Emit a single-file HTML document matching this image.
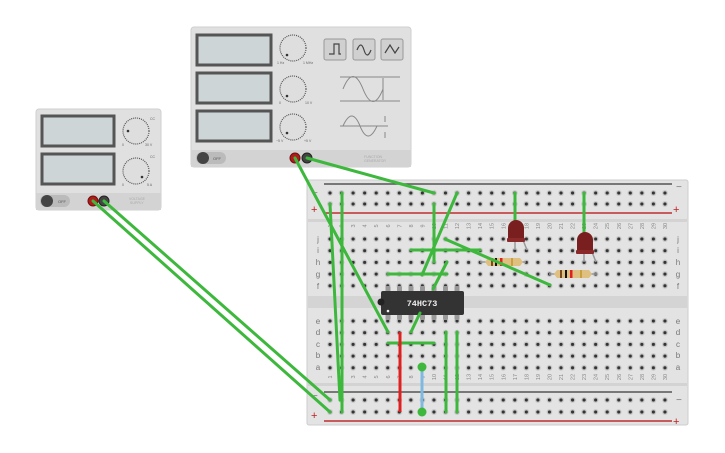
<!DOCTYPE html>
<html><head><meta charset="utf-8"><style>
html,body{margin:0;padding:0;background:#fff;width:725px;height:453px;overflow:hidden}
svg{display:block;font-family:"Liberation Sans",sans-serif}
</style></head><body>
<svg width="725" height="453" viewBox="0 0 725 453" xmlns="http://www.w3.org/2000/svg">
<defs>
<pattern id="holes" x="324.2" y="0" width="11.55" height="11.7" patternUnits="userSpaceOnUse">
<circle cx="5.8" cy="5.85" r="2.9" fill="#c8c8c8"/><circle cx="5.8" cy="5.85" r="1.6" fill="#333"/>
</pattern>
</defs>

<!-- Function generator -->
<rect x="191" y="27" width="220" height="140" rx="3" fill="#e0e0e0" stroke="#cfcfcf"/>
<rect x="191" y="150" width="220" height="17" fill="#d3d3d3"/>
<g fill="#cdd5d6" stroke="#555" stroke-width="3">
<rect x="197" y="35" width="74" height="30"/><rect x="197" y="73" width="74" height="30"/><rect x="197" y="111" width="74" height="30"/>
</g>
<g fill="#dedede" stroke="#555" stroke-width="1.2" stroke-dasharray="1 1">
<circle cx="293" cy="48" r="13"/><circle cx="293" cy="89" r="13"/><circle cx="293" cy="127" r="13"/>
</g>
<g fill="#333"><circle cx="287" cy="55" r="1.3"/><circle cx="287" cy="96" r="1.3"/><circle cx="287" cy="133" r="1.3"/></g>
<g font-size="3.5" fill="#666"><text x="277" y="64">1 Hz</text><text x="303" y="64">1 MHz</text><text x="279" y="104">0</text><text x="305" y="104">10 V</text><text x="276" y="142">−5 V</text><text x="304" y="142">+5 V</text></g>
<g fill="#d0d0d0" stroke="#999"><rect x="324" y="39" width="22" height="21" rx="2"/><rect x="353" y="39" width="22" height="21" rx="2"/><rect x="381" y="39" width="22" height="21" rx="2"/></g>
<g fill="none" stroke="#444" stroke-width="1.2">
<path d="M329 54h5v-10h5v10h2"/><path d="M357 50q4-10 7 0t7 0"/><path d="M385 53l5-8 5 8 4-6"/>
</g>
<g fill="none" stroke="#888" stroke-width="1">
<path d="M340 77h60M340 101h60M343 89q10-25 20 0t20 0M383 78v22"/>
<path d="M340 126h48M343 126q9-20 17 0t17 0M385 116v6M385 132v6"/>
</g>
<rect x="196" y="152" width="30" height="12" rx="6" fill="#bbb"/><circle cx="203" cy="158" r="6" fill="#444"/>
<text x="213" y="160" font-size="4" fill="#555">OFF</text>
<text x="364" y="158" font-size="3.5" fill="#aaa">FUNCTION</text><text x="364" y="162" font-size="3.5" fill="#aaa">GENERATOR</text>
<circle cx="295" cy="158" r="5" fill="#b01c1c" stroke="#701010"/><circle cx="307" cy="158" r="5" fill="#444" stroke="#222"/>

<!-- Voltage supply -->
<rect x="36" y="109" width="125" height="101" rx="3" fill="#e0e0e0" stroke="#cfcfcf"/>
<rect x="36" y="193" width="125" height="17" fill="#d3d3d3"/>
<g fill="#cdd5d6" stroke="#555" stroke-width="3"><rect x="42" y="116" width="72" height="30"/><rect x="42" y="154" width="72" height="30"/></g>
<g fill="#dedede" stroke="#555" stroke-width="1.2" stroke-dasharray="1 1"><circle cx="136" cy="131" r="13"/><circle cx="136" cy="171" r="13"/></g>
<g fill="#333"><circle cx="128" cy="131" r="1.3"/><circle cx="142" cy="177" r="1.3"/></g>
<g font-size="3.5" fill="#666"><text x="122" y="146">0</text><text x="145" y="146">30 V</text><text x="122" y="186">0</text><text x="147" y="186">5 A</text><text x="150" y="120">CC</text><text x="150" y="158">CC</text></g>
<rect x="40" y="195" width="30" height="12" rx="6" fill="#bbb"/><circle cx="47" cy="201" r="6" fill="#444"/>
<text x="58" y="203" font-size="4" fill="#555">OFF</text>
<text x="129" y="200" font-size="3.5" fill="#aaa">VOLTAGE</text><text x="130" y="204" font-size="3.5" fill="#aaa">SUPPLY</text>
<circle cx="93" cy="201" r="5" fill="#b01c1c" stroke="#701010"/><circle cx="104" cy="201" r="5" fill="#444" stroke="#222"/>

<!-- Breadboard -->
<rect x="307" y="180" width="381" height="245" rx="2" fill="#e3e3e3" stroke="#ccc"/>
<rect x="308" y="219" width="379" height="3" fill="#d3d3d3"/>
<rect x="308" y="296" width="379" height="12" fill="#d4d4d4"/>
<rect x="308" y="383" width="379" height="3" fill="#d3d3d3"/>
<line x1="324" y1="184" x2="672" y2="184" stroke="#555" stroke-width="1.5"/>
<line x1="324" y1="213" x2="672" y2="213" stroke="#c03030" stroke-width="1.5"/>
<line x1="324" y1="392" x2="672" y2="392" stroke="#555" stroke-width="1.5"/>
<line x1="324" y1="421" x2="672" y2="421" stroke="#c03030" stroke-width="1.5"/>
<g font-size="10" fill="#777"><text x="676" y="190">−</text><text x="312" y="196">−</text><text x="312" y="399">−</text><text x="676" y="403">−</text></g>
<g font-size="11" fill="#c02020"><text x="311" y="213">+</text><text x="673" y="213">+</text><text x="311" y="419">+</text><text x="673" y="425">+</text></g>
<!-- holes -->
<rect x="324.2" y="0" width="346.5" height="11.7" fill="url(#holes)" transform="translate(0,187.15)"/>
<rect x="324.2" y="0" width="346.5" height="11.7" fill="url(#holes)" transform="translate(0,198.15)"/>
<rect x="324.2" y="0" width="346.5" height="58.5" fill="url(#holes)" transform="translate(0,233.15)"/>
<rect x="324.2" y="0" width="346.5" height="58.5" fill="url(#holes)" transform="translate(0,315.15)"/>
<rect x="324.2" y="0" width="346.5" height="11.7" fill="url(#holes)" transform="translate(0,394.15)"/>
<rect x="324.2" y="0" width="346.5" height="11.7" fill="url(#holes)" transform="translate(0,406.15)"/>
<!-- row letters -->
<g font-size="8" fill="#777" text-anchor="middle">
<text x="318" y="242">j</text><text x="318" y="253">i</text><text x="318" y="265">h</text><text x="318" y="277">g</text><text x="318" y="289">f</text>
<text x="318" y="324">e</text><text x="318" y="335">d</text><text x="318" y="347">c</text><text x="318" y="358">b</text><text x="318" y="370">a</text>
<text x="678" y="242">j</text><text x="678" y="253">i</text><text x="678" y="265">h</text><text x="678" y="277">g</text><text x="678" y="289">f</text>
<text x="678" y="324">e</text><text x="678" y="335">d</text><text x="678" y="347">c</text><text x="678" y="358">b</text><text x="678" y="370">a</text>
</g>
<g font-size="5.5" fill="#888" text-anchor="middle">
<g transform="translate(2,226)">
<text transform="translate(330,0) rotate(-90)">1</text><text transform="translate(341.55,0) rotate(-90)">2</text><text transform="translate(353.1,0) rotate(-90)">3</text><text transform="translate(364.65,0) rotate(-90)">4</text><text transform="translate(376.2,0) rotate(-90)">5</text><text transform="translate(387.75,0) rotate(-90)">6</text><text transform="translate(399.3,0) rotate(-90)">7</text><text transform="translate(410.85,0) rotate(-90)">8</text><text transform="translate(422.4,0) rotate(-90)">9</text><text transform="translate(433.95,0) rotate(-90)">10</text><text transform="translate(445.5,0) rotate(-90)">11</text><text transform="translate(457.05,0) rotate(-90)">12</text><text transform="translate(468.6,0) rotate(-90)">13</text><text transform="translate(480.15,0) rotate(-90)">14</text><text transform="translate(491.7,0) rotate(-90)">15</text><text transform="translate(503.25,0) rotate(-90)">16</text><text transform="translate(514.8,0) rotate(-90)">17</text><text transform="translate(526.35,0) rotate(-90)">18</text><text transform="translate(537.9,0) rotate(-90)">19</text><text transform="translate(549.45,0) rotate(-90)">20</text><text transform="translate(561,0) rotate(-90)">21</text><text transform="translate(572.55,0) rotate(-90)">22</text><text transform="translate(584.1,0) rotate(-90)">23</text><text transform="translate(595.65,0) rotate(-90)">24</text><text transform="translate(607.2,0) rotate(-90)">25</text><text transform="translate(618.75,0) rotate(-90)">26</text><text transform="translate(630.3,0) rotate(-90)">27</text><text transform="translate(641.85,0) rotate(-90)">28</text><text transform="translate(653.4,0) rotate(-90)">29</text><text transform="translate(664.95,0) rotate(-90)">30</text>
</g>
<g transform="translate(2,377)">
<text transform="translate(330,0) rotate(-90)">1</text><text transform="translate(341.55,0) rotate(-90)">2</text><text transform="translate(353.1,0) rotate(-90)">3</text><text transform="translate(364.65,0) rotate(-90)">4</text><text transform="translate(376.2,0) rotate(-90)">5</text><text transform="translate(387.75,0) rotate(-90)">6</text><text transform="translate(399.3,0) rotate(-90)">7</text><text transform="translate(410.85,0) rotate(-90)">8</text><text transform="translate(422.4,0) rotate(-90)">9</text><text transform="translate(433.95,0) rotate(-90)">10</text><text transform="translate(445.5,0) rotate(-90)">11</text><text transform="translate(457.05,0) rotate(-90)">12</text><text transform="translate(468.6,0) rotate(-90)">13</text><text transform="translate(480.15,0) rotate(-90)">14</text><text transform="translate(491.7,0) rotate(-90)">15</text><text transform="translate(503.25,0) rotate(-90)">16</text><text transform="translate(514.8,0) rotate(-90)">17</text><text transform="translate(526.35,0) rotate(-90)">18</text><text transform="translate(537.9,0) rotate(-90)">19</text><text transform="translate(549.45,0) rotate(-90)">20</text><text transform="translate(561,0) rotate(-90)">21</text><text transform="translate(572.55,0) rotate(-90)">22</text><text transform="translate(584.1,0) rotate(-90)">23</text><text transform="translate(595.65,0) rotate(-90)">24</text><text transform="translate(607.2,0) rotate(-90)">25</text><text transform="translate(618.75,0) rotate(-90)">26</text><text transform="translate(630.3,0) rotate(-90)">27</text><text transform="translate(641.85,0) rotate(-90)">28</text><text transform="translate(653.4,0) rotate(-90)">29</text><text transform="translate(664.95,0) rotate(-90)">30</text>
</g>
</g>

<!-- chip -->
<g fill="#999">
<rect x="385.5" y="286" width="5" height="6" rx="1.5"/><rect x="397" y="286" width="5" height="6" rx="1.5"/><rect x="408.5" y="286" width="5" height="6" rx="1.5"/><rect x="420" y="286" width="5" height="6" rx="1.5"/><rect x="431.5" y="286" width="5" height="6" rx="1.5"/><rect x="443" y="286" width="5" height="6" rx="1.5"/><rect x="454.5" y="286" width="5" height="6" rx="1.5"/>
<rect x="385.5" y="314" width="5" height="6" rx="1.5"/><rect x="397" y="314" width="5" height="6" rx="1.5"/><rect x="408.5" y="314" width="5" height="6" rx="1.5"/><rect x="420" y="314" width="5" height="6" rx="1.5"/><rect x="431.5" y="314" width="5" height="6" rx="1.5"/><rect x="443" y="314" width="5" height="6" rx="1.5"/><rect x="454.5" y="314" width="5" height="6" rx="1.5"/>
</g>
<rect x="381" y="291" width="83" height="24" rx="2" fill="#333"/>
<circle cx="381" cy="302" r="3.5" fill="#222"/><circle cx="388" cy="311" r="1.3" fill="#eee"/>
<text x="422" y="306" font-size="8.5" font-weight="bold" fill="#eee" text-anchor="middle" font-family="Liberation Mono,monospace">74HC73</text>

<!-- resistors -->
<g>
<line x1="480" y1="262" x2="526" y2="262" stroke="#999" stroke-width="1.5"/>
<path d="M488 258h32l3 4-3 4h-32l-3-4z" fill="#e0c080"/>
<rect x="491" y="258" width="2" height="8" fill="#7a4a20"/><rect x="495" y="258" width="2" height="8" fill="#111"/><rect x="500" y="258" width="2.5" height="8" fill="#e02020"/><rect x="511" y="258" width="2" height="8" fill="#c8a040"/>
<line x1="549" y1="274" x2="597" y2="274" stroke="#999" stroke-width="1.5"/>
<path d="M557 270h32l3 4-3 4h-32l-3-4z" fill="#e0c080"/>
<rect x="560" y="270" width="2" height="8" fill="#7a4a20"/><rect x="565" y="270" width="2" height="8" fill="#111"/><rect x="570" y="270" width="2.5" height="8" fill="#e02020"/><rect x="580" y="270" width="2" height="8" fill="#c8a040"/>
</g>

<!-- wires -->
<g stroke="#3db83d" stroke-width="3" stroke-linecap="round" fill="none">
<line x1="307" y1="158" x2="434" y2="193"/>
<line x1="295" y1="158" x2="388" y2="332"/>
<line x1="93" y1="201" x2="330" y2="412"/>
<line x1="104" y1="201" x2="330" y2="400"/>
<line x1="330" y1="204" x2="340" y2="400"/>
<line x1="342" y1="193" x2="342" y2="412"/>
<line x1="434" y1="204" x2="434" y2="262"/>
<line x1="457" y1="193" x2="422" y2="275"/>
<line x1="411" y1="250" x2="480" y2="250"/>
<line x1="445" y1="239" x2="550" y2="285"/>
<line x1="388" y1="274" x2="447" y2="274"/>
<line x1="447" y1="262" x2="433" y2="289"/>
<line x1="411" y1="332" x2="420" y2="313"/>
<line x1="388" y1="343" x2="434" y2="343"/>
<line x1="446" y1="332" x2="446" y2="412"/>
<line x1="457" y1="332" x2="457" y2="412"/>
<line x1="515" y1="193" x2="515" y2="225"/>
<line x1="584" y1="193" x2="584" y2="235"/>
</g>
<line x1="400" y1="332" x2="400" y2="412" stroke="#e02020" stroke-width="3"/>
<line x1="422" y1="367" x2="422" y2="412" stroke="#7fb8e0" stroke-width="3"/>
<circle cx="422" cy="367" r="4.5" fill="#3db83d"/><circle cx="422" cy="412" r="4.5" fill="#3db83d"/>

<!-- LEDs -->
<g stroke="#999" stroke-width="1.5">
<line x1="515" y1="238" x2="515" y2="250"/><line x1="523" y1="240" x2="527" y2="250"/>
<line x1="584" y1="250" x2="584" y2="262"/><line x1="592" y1="252" x2="596" y2="262"/>
</g>
<path d="M508 241v-13a8 8 0 0 1 16 0v13z" fill="#7a1f1f"/><rect x="507" y="238" width="18" height="4" rx="1" fill="#8a2a2a"/>
<path d="M577 253v-13a8 8 0 0 1 16 0v13z" fill="#7a1f1f"/><rect x="576" y="250" width="18" height="4" rx="1" fill="#8a2a2a"/>
</svg>
</body></html>
